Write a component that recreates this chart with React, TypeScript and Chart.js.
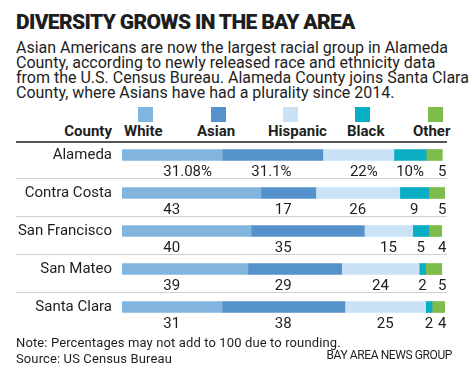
import React, { useEffect, useRef } from "react";
import { Chart, registerables } from "chart.js";

Chart.register(...registerables);

const counties = ["Alameda", "Contra Costa", "San Francisco", "San Mateo", "Santa Clara"];
const seriesNames = ["White", "Asian", "Hispanic", "Black", "Other"];
const white = [31.08, 43, 40, 39, 31];
const asian = [31.1, 17, 35, 29, 38];
const hispanic = [22, 26, 15, 24, 25];
const black = [10, 9, 5, 2, 2];
const other = [5, 5, 4, 5, 4];
const whiteLabels = ["31.08%", "43", "40", "39", "31"];
const asianLabels = ["31.1%", "17", "35", "29", "38"];
const hispanicLabels = ["22%", "26", "15", "24", "25"];
const blackLabels = ["10%", "9", "5", "2", "2"];
const otherLabels = ["5", "5", "4", "5", "4"];
const colors = ["#82b5de", "#5592cc", "#c9e2f6", "#0aaec4", "#7ebd4c"];

const FONT = "Roboto, 'Open Sans', sans-serif";
const TEXT = "#1e1e1e";

const rowPlugin = {
  id: "rowLabels",
  afterDatasetsDraw(chart: any) {
    const ctx = chart.ctx;
    const xs = chart.scales.x;
    const ys = chart.scales.y;
    const labelSets = [whiteLabels, asianLabels, hispanicLabels, blackLabels, otherLabels];
    ctx.save();
    ctx.font = `15px ${FONT}`;
    ctx.fillStyle = TEXT;
    ctx.textBaseline = "alphabetic";
    counties.forEach((_, i) => {
      const yc = ys.getPixelForValue(i);
      const ty = yc + 21;
      if (i < counties.length - 1) {
        ctx.strokeStyle = "#d0d0d0";
        ctx.lineWidth = 1;
        ctx.beginPath();
        ctx.moveTo(16, Math.round(yc + 23) + 0.5);
        ctx.lineTo(447, Math.round(yc + 23) + 0.5);
        ctx.stroke();
      }
      const seg = (d: number) => {
        const el = chart.getDatasetMeta(d).data[i];
        const p = el.getProps(["x", "base"], true);
        return { start: Math.min(p.x, p.base), end: Math.max(p.x, p.base) };
      };
      ctx.textAlign = "left";
      ctx.fillText(labelSets[0][i], xs.getPixelForValue(12.8), ty);
      ctx.textAlign = "right";
      ctx.fillText(labelSets[1][i], xs.getPixelForValue(52.5), ty);
      {
        const s = seg(2);
        const txt = labelSets[2][i];
        const num = txt.replace("%", "");
        const w = ctx.measureText(num).width;
        const cx = (s.start + s.end) / 2;
        ctx.textAlign = "left";
        ctx.fillText(txt, cx - w / 2, ty);
      }
      {
        const s = seg(3);
        ctx.textAlign = "center";
        ctx.fillText(labelSets[3][i], (s.start + s.end) / 2, ty);
      }
      ctx.textAlign = "right";
      ctx.fillText(labelSets[4][i], chart.chartArea.right + 1.5, ty);
    });
    ctx.restore();
  },
};

function BarChart() {
  const ref = useRef<HTMLCanvasElement | null>(null);
  useEffect(() => {
    if (!ref.current) return;
    const series = [white, asian, hispanic, black, other];
    const chart = new Chart(ref.current, {
      type: "bar",
      data: {
        labels: counties,
        datasets: series.map((d, k) => ({
          label: seriesNames[k],
          data: d,
          backgroundColor: colors[k],
          borderWidth: 0,
          barThickness: 11,
        })),
      },
      options: {
        indexAxis: "y",
        responsive: false,
        maintainAspectRatio: false,
        animation: false,
        devicePixelRatio: 1,
        layout: { padding: { left: 0, right: 29, top: 0, bottom: 10 } },
        plugins: { legend: { display: false }, tooltip: { enabled: false }, title: { display: false } },
        scales: {
          x: { stacked: true, min: 0, max: 100, display: false },
          y: {
            stacked: true,
            grid: { display: false, drawTicks: false },
            border: { display: false },
            ticks: { color: TEXT, font: { family: FONT, size: 15 }, padding: 10 },
            afterFit: (scale: any) => {
              scale.width = 122;
              scale.paddingTop = 0;
              scale.paddingBottom = 0;
            },
          },
        },
      },
      plugins: [rowPlugin],
    });
    return () => chart.destroy();
  }, []);
  return <canvas ref={ref} width={474} height={200} style={{ position: "absolute", left: 0, top: 136, width: 474, height: 200 }} />;
}

const legendX = [138, 211, 283, 355, 428];
const headerX = [124, 197, 268, 347, 413];

export default function App() {
  useEffect(() => {
    document.body.style.margin = "0";
  }, []);
  const abs = (extra: React.CSSProperties): React.CSSProperties => ({ position: "absolute", whiteSpace: "nowrap", color: TEXT, fontFamily: FONT, ...extra });
  return (
    <div style={{ position: "fixed", left: 0, top: 0, width: 474, height: 385, background: "#fff", overflow: "hidden" }}>
      <div style={abs({ left: 16, top: 12, fontSize: 21, lineHeight: "21px", fontWeight: 900, letterSpacing: "-0.65px" })}>DIVERSITY GROWS IN THE BAY AREA</div>
      <div style={abs({ left: 16, top: 40, fontSize: 16, lineHeight: "15px" })}>
        Asian Americans are now the largest racial group in Alameda
        <br />
        County, according to newly released race and ethnicity data
        <br />
        from the U.S. Census Bureau. Alameda County joins Santa Clara
        <br />
        County, where Asians have had a plurality since 2014.
      </div>
      {seriesNames.map((n, k) => (
        <div key={"sq" + n} style={{ position: "absolute", left: legendX[k], top: 107, width: 15, height: 15, background: colors[k] }} />
      ))}
      <div style={abs({ right: 474 - 112, top: 124, fontSize: 15, lineHeight: "15px", fontWeight: 700 })}>County</div>
      {seriesNames.map((n, k) => (
        <div key={"h" + n} style={abs({ left: headerX[k], top: 124, fontSize: 15, lineHeight: "15px", fontWeight: 700 })}>{n}</div>
      ))}
      <div style={{ position: "absolute", left: 16, top: 141, width: 431, height: 2, background: "#555" }} />
      <BarChart />
      <div style={abs({ left: 16, top: 335, fontSize: 13, lineHeight: "16px", letterSpacing: "0.12px" })}>
        Note: Percentages may not add to 100 due to rounding.
        <br />
        Source: US Census Bureau
      </div>
      <div style={abs({ right: 474 - 452, top: 349, fontSize: 12, lineHeight: "12px", letterSpacing: "-0.4px" })}>BAY AREA NEWS GROUP</div>
    </div>
  );
}
